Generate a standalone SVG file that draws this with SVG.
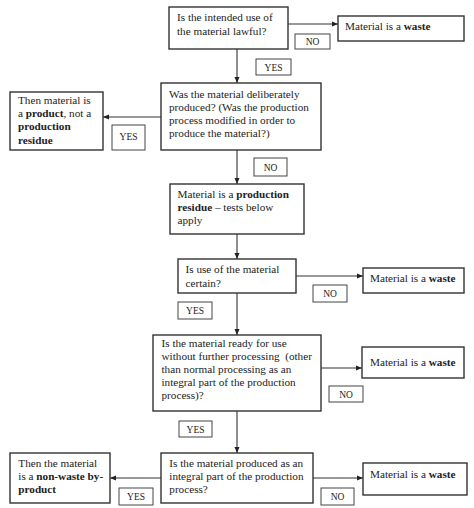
<svg xmlns="http://www.w3.org/2000/svg" width="474" height="508" viewBox="0 0 474 508">
<style>
.box{fill:#fff;stroke:#333;stroke-width:1.4}
.lbl{fill:#fff;stroke:#444;stroke-width:1}
.t{font-family:"Liberation Serif","Times New Roman",serif;font-size:11.2px;fill:#222}
.s{font-family:"Liberation Serif","Times New Roman",serif;font-size:9.5px;fill:#222;text-anchor:middle}
.c{fill:none;stroke:#333;stroke-width:1.1}
</style>
<defs>
<marker id="ah" markerWidth="6" markerHeight="6" refX="6" refY="3" orient="auto" markerUnits="userSpaceOnUse">
<path d="M0,0.5 L6,3 L0,5.5 Z" fill="#222"/>
</marker>
</defs>
<rect width="474" height="508" fill="#fff"/>
<g id="connectors">
<line class="c" x1="288" y1="24" x2="338" y2="24" marker-end="url(#ah)"/>
<line class="c" x1="237" y1="49" x2="237" y2="83" marker-end="url(#ah)"/>
<line class="c" x1="161" y1="117" x2="103" y2="117" marker-end="url(#ah)"/>
<line class="c" x1="237" y1="150" x2="237" y2="184" marker-end="url(#ah)"/>
<line class="c" x1="237" y1="234" x2="237" y2="259" marker-end="url(#ah)"/>
<line class="c" x1="296" y1="276" x2="363" y2="276" marker-end="url(#ah)"/>
<line class="c" x1="237" y1="293" x2="237" y2="335" marker-end="url(#ah)"/>
<line class="c" x1="321" y1="368" x2="362" y2="368" marker-end="url(#ah)"/>
<line class="c" x1="237" y1="411" x2="237" y2="453" marker-end="url(#ah)"/>
<line class="c" x1="161" y1="478" x2="110" y2="478" marker-end="url(#ah)"/>
<line class="c" x1="313" y1="478" x2="363" y2="478" marker-end="url(#ah)"/>
</g>
<g id="q1">
<rect class="box" x="169" y="7" width="119" height="42"/>
<text class="t" x="177" y="21">Is the intended use of</text>
<text class="t" x="177" y="34.5">the material lawful?</text>
</g>
<g id="w1">
<rect class="box" x="338" y="16" width="126" height="25"/>
<text class="t" x="345" y="30">Material is a <tspan font-weight="bold">waste</tspan></text>
</g>
<g id="no1"><rect class="lbl" x="295" y="34" width="35" height="15"/><text class="s" x="312.5" y="45">NO</text></g>
<g id="yes1"><rect class="lbl" x="256" y="59" width="35" height="16"/><text class="s" x="273.5" y="70.5">YES</text></g>
<g id="q2">
<rect class="box" x="161" y="83" width="160" height="67"/>
<text class="t" x="169" y="97.5">Was the material deliberately</text>
<text class="t" x="169" y="110.7">produced? (Was the production</text>
<text class="t" x="169" y="123.6">process modified in order to</text>
<text class="t" x="169" y="136.8">produce the material?)</text>
</g>
<g id="prod">
<rect class="box" x="10" y="92" width="93" height="58"/>
<text class="t" x="18" y="104">Then material is</text>
<text class="t" x="18" y="117.3">a <tspan font-weight="bold">product</tspan>, not a</text>
<text class="t" x="18" y="130.3" font-weight="bold">production</text>
<text class="t" x="18" y="143.5" font-weight="bold">residue</text>
</g>
<g id="yes2"><rect class="lbl" x="112" y="125" width="33" height="25"/><text class="s" x="128.5" y="140">YES</text></g>
<g id="no2"><rect class="lbl" x="254" y="158" width="33" height="18"/><text class="s" x="270.5" y="170.5">NO</text></g>
<g id="res">
<rect class="box" x="170" y="184" width="134" height="50"/>
<text class="t" x="177.5" y="197.5">Material is a <tspan font-weight="bold">production</tspan></text>
<text class="t" x="177.5" y="210.7"><tspan font-weight="bold">residue</tspan> – tests below</text>
<text class="t" x="177.5" y="223.5">apply</text>
</g>
<g id="q3">
<rect class="box" x="178" y="259" width="118" height="34"/>
<text class="t" x="185.5" y="273.3">Is use of the material</text>
<text class="t" x="185.5" y="286.7">certain?</text>
</g>
<g id="w2">
<rect class="box" x="363" y="268" width="101" height="25"/>
<text class="t" x="370" y="282">Material is a <tspan font-weight="bold">waste</tspan></text>
</g>
<g id="no3"><rect class="lbl" x="313" y="285" width="34" height="17"/><text class="s" x="330" y="297">NO</text></g>
<g id="yes3"><rect class="lbl" x="178" y="302" width="34" height="17"/><text class="s" x="195" y="314">YES</text></g>
<g id="q4">
<rect class="box" x="153" y="335" width="168" height="76"/>
<text class="t" x="161.5" y="346.7">Is the material ready for use</text>
<text class="t" x="161.5" y="360" xml:space="preserve">without further processing  (other</text>
<text class="t" x="161.5" y="372.8">than normal processing as an</text>
<text class="t" x="161.5" y="386">integral part of the production</text>
<text class="t" x="161.5" y="398.8">process)?</text>
</g>
<g id="w3">
<rect class="box" x="362" y="347" width="102" height="31"/>
<text class="t" x="370" y="366">Material is a <tspan font-weight="bold">waste</tspan></text>
</g>
<g id="no4"><rect class="lbl" x="329" y="386" width="34" height="16"/><text class="s" x="346" y="397.5">NO</text></g>
<g id="yes4"><rect class="lbl" x="179" y="421" width="33" height="16"/><text class="s" x="195.5" y="432.5">YES</text></g>
<g id="q5">
<rect class="box" x="161" y="453" width="152" height="50"/>
<text class="t" x="169.3" y="466.7">Is the material produced as an</text>
<text class="t" x="169.3" y="479.5">integral part of the production</text>
<text class="t" x="169.3" y="493.3">process?</text>
</g>
<g id="byprod">
<rect class="box" x="10" y="453" width="100" height="50"/>
<text class="t" x="18.3" y="466.7">Then the material</text>
<text class="t" x="18.3" y="479.5">is a <tspan font-weight="bold">non-waste by-</tspan></text>
<text class="t" x="18.3" y="493.3" font-weight="bold">product</text>
</g>
<g id="yes5"><rect class="lbl" x="119" y="488" width="34" height="17"/><text class="s" x="136" y="500">YES</text></g>
<g id="w4">
<rect class="box" x="363" y="463" width="104" height="32"/>
<text class="t" x="370" y="477.5">Material is a <tspan font-weight="bold">waste</tspan></text>
</g>
<g id="no5"><rect class="lbl" x="321" y="488" width="33" height="17"/><text class="s" x="337.5" y="500">NO</text></g>
</svg>
